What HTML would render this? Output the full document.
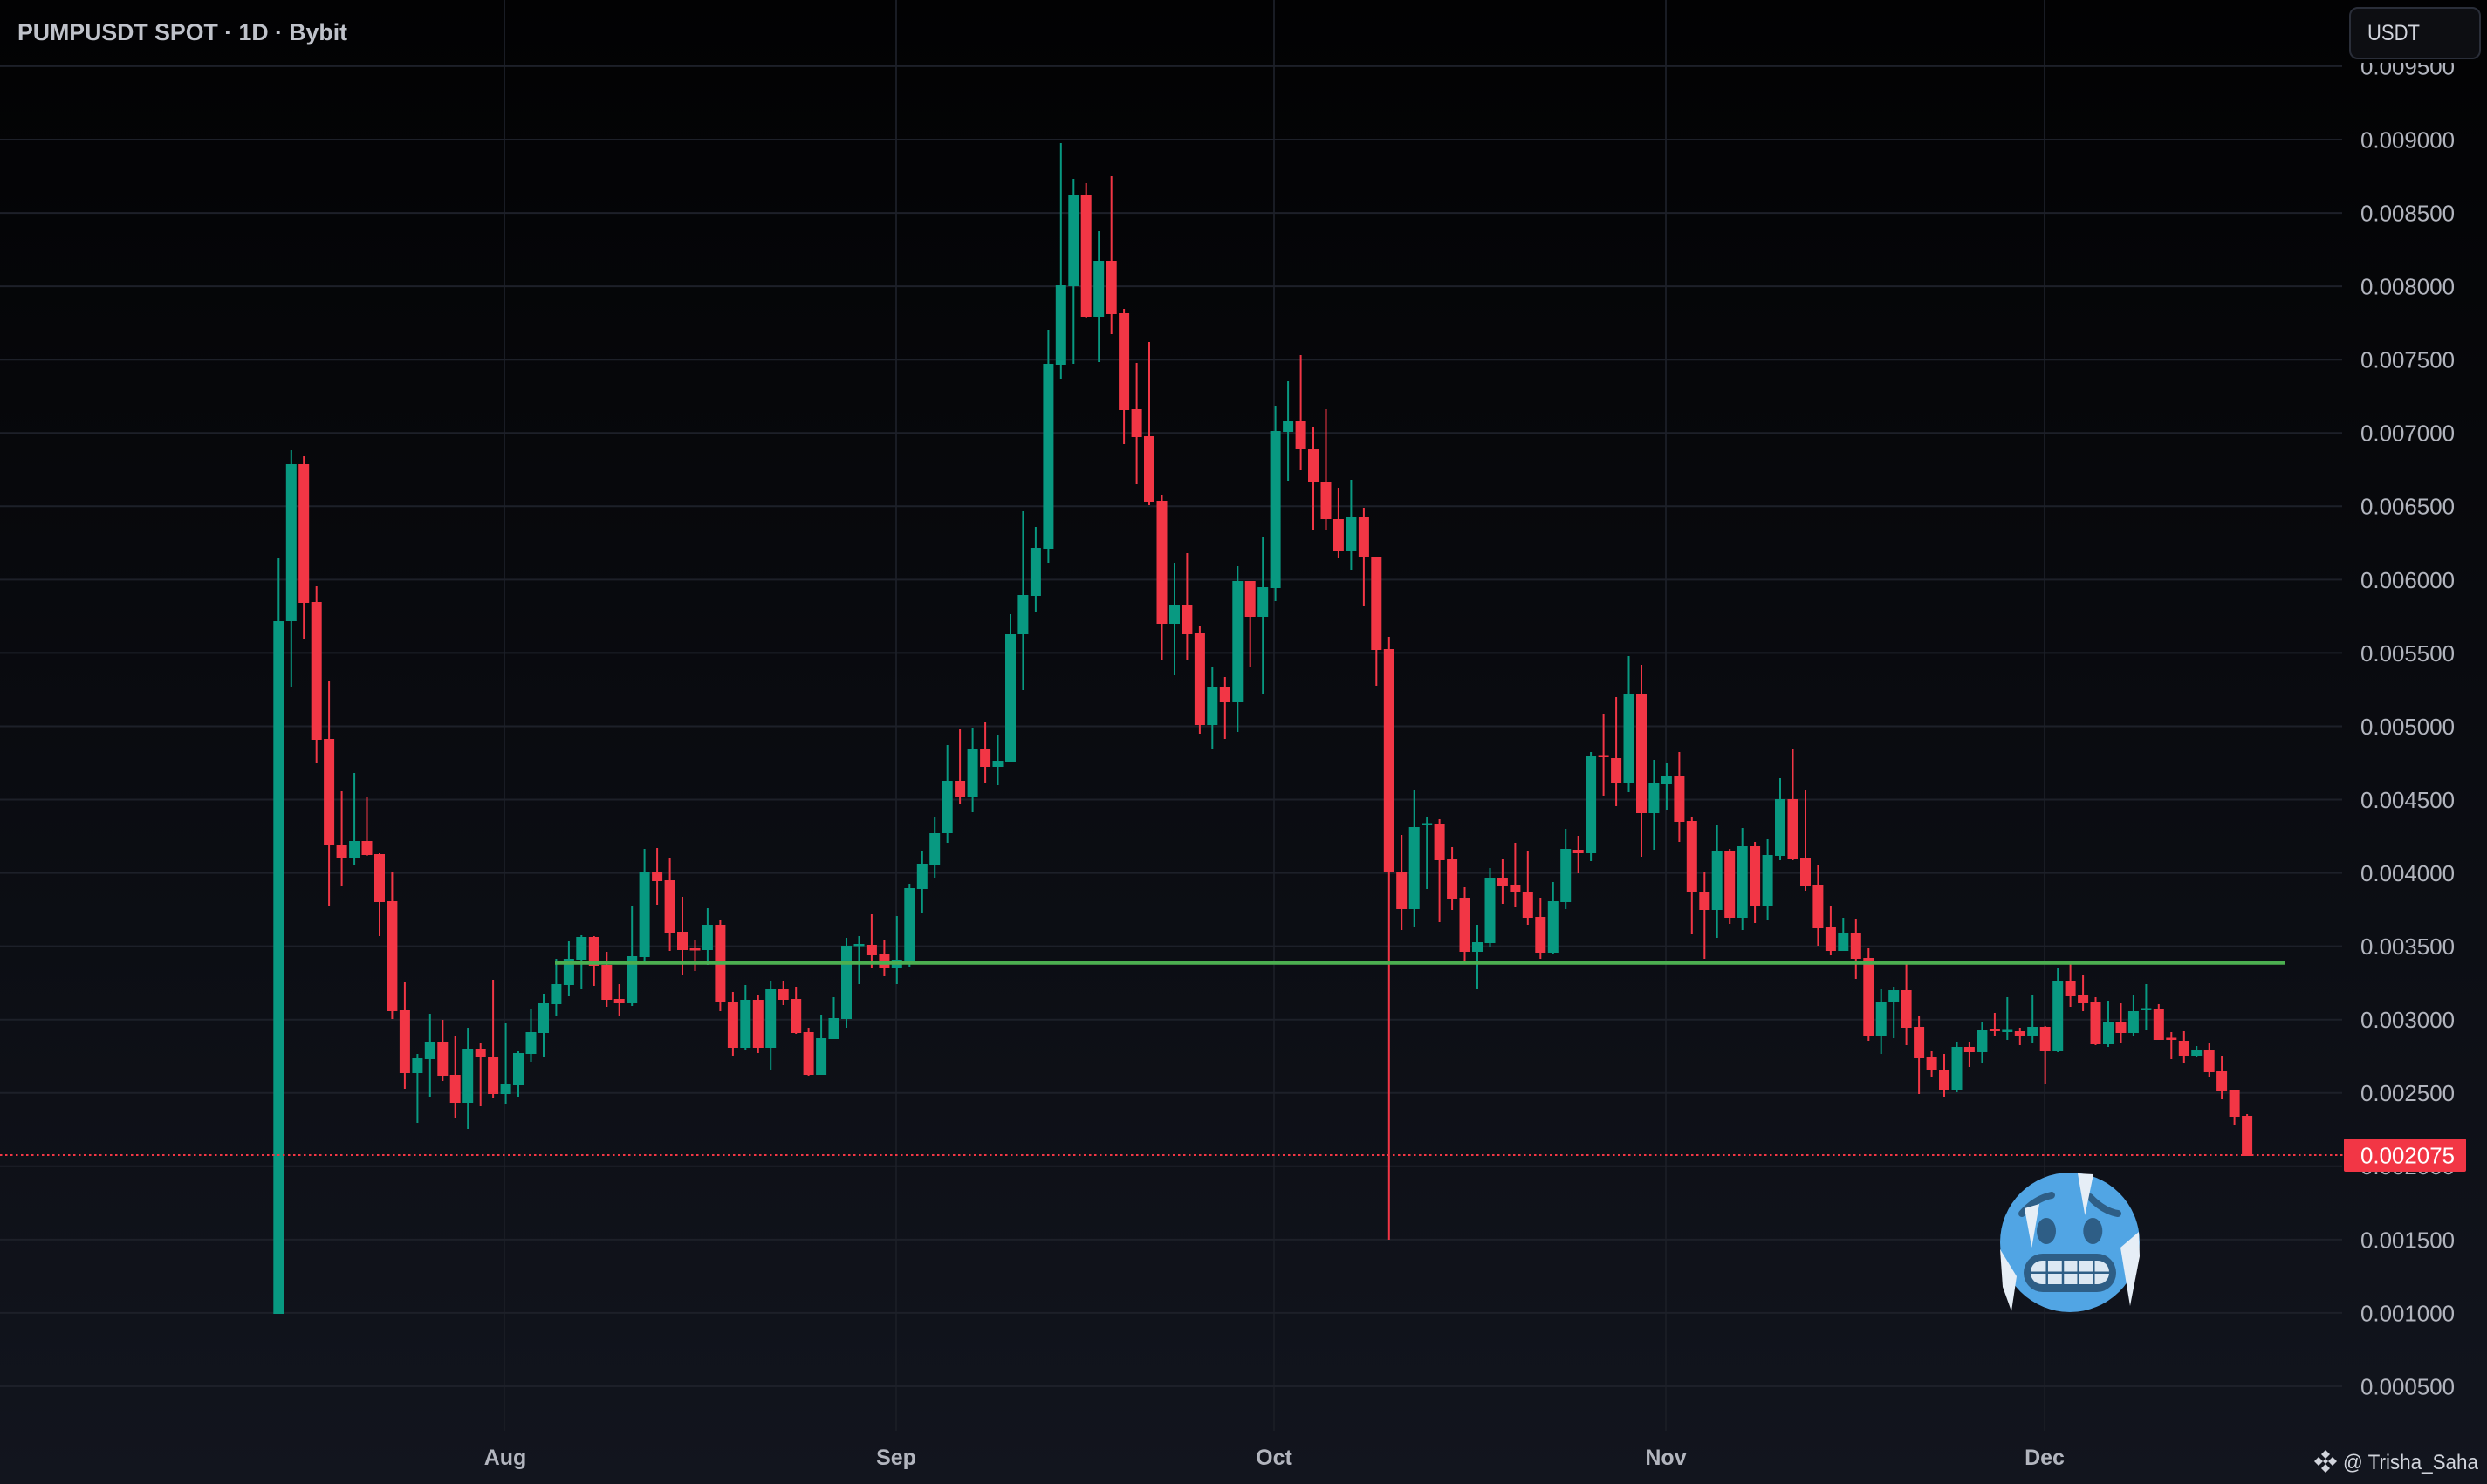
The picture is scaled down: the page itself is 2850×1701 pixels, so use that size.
<!DOCTYPE html>
<html><head><meta charset="utf-8"><style>
html,body{margin:0;padding:0;width:2850px;height:1701px;overflow:hidden;background:#0a0b0f;}
svg{display:block}
text{font-family:"Liberation Sans",sans-serif;}
</style></head><body>
<svg width="2850" height="1701" viewBox="0 0 2850 1701" xmlns="http://www.w3.org/2000/svg">
<defs><linearGradient id="bg" x1="0" y1="0" x2="0" y2="1"><stop offset="0" stop-color="#020203"/><stop offset="1" stop-color="#12151e"/></linearGradient>
<clipPath id="topclip"><rect x="2690" y="72" width="160" height="40"/></clipPath></defs>
<rect width="2850" height="1701" fill="url(#bg)"/>
<!-- vertical grid -->
<path d="M578 0V1640M1027 0V1640M1460 0V1640M1909 0V1640M2343 0V1640" stroke="#191c24" stroke-width="2" fill="none"/>
<!-- horizontal grid -->
<path d="M0 75.9H2684M0 160H2684M0 244.1H2684M0 328.1H2684M0 412.2H2684M0 496.2H2684M0 580.3H2684M0 664.4H2684M0 748.4H2684M0 832.5H2684M0 916.5H2684M0 1000.6H2684M0 1084.6H2684M0 1168.7H2684M0 1252.8H2684M0 1336.8H2684M0 1420.9H2684M0 1504.9H2684M0 1589H2684" stroke="#1d2029" stroke-width="2" fill="none"/>

<!-- green wicks -->
<path fill="none" stroke="#089981" stroke-width="2" d="M319.3 640V1506M333.8 516V788M406.1 886V991M478.4 1208V1287M492.8 1162V1257M536.2 1178V1294M579.6 1173V1266M594 1205V1257M608.5 1157V1217M623 1139V1211M637.4 1099V1164M651.9 1079V1142M666.3 1072V1134M724.2 1038V1153M738.6 973V1101M810.9 1041V1106M854.3 1129V1204M883.2 1125V1227M941.1 1163V1232M955.5 1143V1191M970 1075V1178M984.5 1073V1128M1027.8 1050V1128M1042.3 1013V1108M1056.8 976V1047M1071.2 936V1006M1085.7 854V966M1114.6 834V931M1143.5 843V900M1158 704V873M1172.4 586V791M1186.9 604V702M1201.4 378V645M1215.8 164V434M1230.3 205V417M1259.2 265V415M1346 645V774M1389.3 765V859M1418.3 649V839M1447.2 615V796M1461.6 465V689M1476.1 437V551M1548.4 550V653M1620.7 906V1063M1635.2 936V1019M1693 1060V1134M1707.5 995V1086M1779.8 1011V1094M1794.2 950V1042M1823.1 862V987M1866.5 752V908M1895.4 871V974M1909.9 874V928M1967.7 946V1075M1996.7 949V1066M2025.6 962V1054M2040 892V986M2112.3 1052V1090M2155.7 1134V1208M2170.2 1131V1190M2242.5 1194V1252M2271.4 1172V1218M2300.3 1143V1192M2329.2 1141V1196M2358.2 1109V1206M2416 1147V1200M2444.9 1141V1187M2459.4 1128V1181M2517.2 1199V1212"/>
<!-- green bodies -->
<path fill="none" stroke="#089981" stroke-width="12" d="M319.3 712V1506M333.8 532V712M406.1 964V983M478.4 1213V1230M492.8 1194V1214M536.2 1202V1264M579.6 1243V1254M594 1207V1244M608.5 1183V1208M623 1150V1184M637.4 1128V1151M651.9 1099V1129M666.3 1074V1100M724.2 1096V1150M738.6 999V1097M810.9 1060V1089M854.3 1146V1201M883.2 1134V1201M941.1 1190V1232M955.5 1167V1191M970 1084V1168M984.5 1082V1084.5M1027.8 1100V1109M1042.3 1018V1101M1056.8 990V1019M1071.2 955V991M1085.7 895V955M1114.6 858V914M1143.5 872V879M1158 727V873M1172.4 682V727M1186.9 628V683M1201.4 417V629M1215.8 327V418M1230.3 224V328M1259.2 299V363M1346 693V715M1389.3 788V831M1418.3 666V805M1447.2 673V707M1461.6 494V674M1476.1 482V495M1548.4 593V632M1620.7 948V1042M1635.2 943.5V946M1693 1080V1091M1707.5 1006V1081M1779.8 1033V1092M1794.2 973V1034M1823.1 867V978M1866.5 795V897M1895.4 898V932M1909.9 890V899M1967.7 975V1043M1996.7 970V1052M2025.6 980V1039M2040 916V981M2112.3 1070V1090M2155.7 1148V1188M2170.2 1135V1149M2242.5 1200V1249M2271.4 1181V1206M2300.3 1180.5V1183M2329.2 1177V1188M2358.2 1125V1205M2416 1171V1197M2444.9 1159V1184M2459.4 1155.5V1158M2517.2 1203V1210"/>
<!-- red wicks -->
<path fill="none" stroke="#f23645" stroke-width="2" d="M348.2 523V733M362.7 672V875M377.1 781V1039M391.6 907V1016M420.5 914V981M435 978V1073M449.4 999V1168M463.9 1126V1248M507.3 1169V1239M521.7 1187V1281M550.7 1195V1268M565.1 1123V1258M680.8 1073V1130M695.3 1091V1154M709.7 1128V1165M753.1 972V1037M767.6 984V1090M782 1028V1117M796.5 1078V1113M825.4 1054V1159M839.9 1137V1210M868.8 1140V1207M897.7 1124V1152M912.2 1131V1185M926.6 1178V1233M998.9 1048V1109M1013.4 1078V1119M1100.1 836V921M1129.1 828V897M1244.7 210V364M1273.7 202V383M1288.1 354V509M1302.6 416V555M1317 392V579M1331.5 567V757M1360.4 634V757M1374.9 718V841M1403.8 776V847M1432.7 666V765M1490.6 407V539M1505 490V608M1519.5 469V607M1533.9 559V640M1562.9 582V695M1577.3 638V786M1591.8 730V1421M1606.2 957V1066M1649.6 939V1057M1664.1 971V1043M1678.5 1017V1104M1721.9 985V1036M1736.4 966V1040M1750.8 975V1060M1765.3 1029V1099M1808.7 958V1001M1837.6 818V912M1852.1 799V924M1881 762V982M1924.4 862V965M1938.8 937V1071M1953.3 1000V1099M1982.2 973V1059M2011.1 965V1058M2054.5 859V986M2069 906V1021M2083.4 992V1084M2097.9 1039V1095M2126.8 1053V1122M2141.3 1087V1193M2184.6 1102V1198M2199.1 1165V1254M2213.6 1205V1235M2228 1208V1257M2256.9 1194V1223M2285.9 1161V1188M2314.8 1178V1198M2343.7 1176V1242M2372.6 1102V1154M2387.1 1117V1159M2401.5 1143V1198M2430.5 1150V1196M2473.8 1151V1192M2488.3 1183V1214M2502.8 1182V1218M2531.7 1195V1235M2546.1 1210V1260M2560.6 1249V1290M2575.1 1277V1325"/>
<!-- red bodies -->
<path fill="none" stroke="#f23645" stroke-width="12" d="M348.2 532V691M362.7 690V848M377.1 847V969M391.6 968V983M420.5 964V980M435 979V1034M449.4 1033V1159M463.9 1158V1230M507.3 1194V1233M521.7 1232V1264M550.7 1202V1212M565.1 1211V1254M680.8 1074V1107M695.3 1106V1146M709.7 1145V1150M753.1 999V1010M767.6 1009V1069M782 1068V1089M796.5 1087V1089.5M825.4 1060V1149M839.9 1148V1201M868.8 1146V1201M897.7 1134V1146M912.2 1145V1184M926.6 1183V1232M998.9 1083V1095M1013.4 1094V1109M1100.1 895V914M1129.1 858V879M1244.7 224V363M1273.7 299V360M1288.1 359V470M1302.6 469V501M1317 500V575M1331.5 574V715M1360.4 693V727M1374.9 726V831M1403.8 788V805M1432.7 666V707M1490.6 483V515M1505 515V552M1519.5 552V595M1533.9 595V632M1562.9 593V638M1577.3 638V745M1591.8 744V999M1606.2 999V1042M1649.6 944V986M1664.1 985V1030M1678.5 1029V1091M1721.9 1006V1015M1736.4 1014V1023M1750.8 1022V1052M1765.3 1051V1092M1808.7 974V978M1837.6 865.5V868M1852.1 869V897M1881 795V932M1924.4 890V942M1938.8 941V1023M1953.3 1022V1043M1982.2 975V1052M2011.1 970V1039M2054.5 916V985M2069 984V1015M2083.4 1014V1064M2097.9 1063V1090M2126.8 1070V1099M2141.3 1098V1188M2184.6 1135V1178M2199.1 1177V1213M2213.6 1212V1227M2228 1226V1249M2256.9 1200V1206M2285.9 1179.5V1182M2314.8 1182V1188M2343.7 1177V1205M2372.6 1125V1142M2387.1 1141V1150M2401.5 1149V1197M2430.5 1171V1184M2473.8 1157V1192M2488.3 1189.5V1192M2502.8 1193V1210M2531.7 1203V1229M2546.1 1228V1250M2560.6 1249V1280M2575.1 1279V1325"/>

<!-- support line -->
<path d="M636 1103.7H2619" stroke="#4caf50" stroke-width="4" fill="none"/>
<!-- current price dotted line -->
<path d="M0 1324H2686" stroke="#f23645" stroke-width="2" stroke-dasharray="2.5 3.5" fill="none"/>

<!-- title -->
<text x="20" y="46" font-size="27" font-weight="bold" fill="#bfc2ca" textLength="378" lengthAdjust="spacingAndGlyphs">PUMPUSDT SPOT · 1D · Bybit</text>

<!-- price axis labels -->
<g font-size="26" fill="#b2b5be">
<text x="2705" y="85.3" textLength="108" lengthAdjust="spacingAndGlyphs" clip-path="url(#topclip)">0.009500</text>
<text x="2705" y="169.4" textLength="108" lengthAdjust="spacingAndGlyphs">0.009000</text>
<text x="2705" y="253.5" textLength="108" lengthAdjust="spacingAndGlyphs">0.008500</text>
<text x="2705" y="337.5" textLength="108" lengthAdjust="spacingAndGlyphs">0.008000</text>
<text x="2705" y="421.6" textLength="108" lengthAdjust="spacingAndGlyphs">0.007500</text>
<text x="2705" y="505.6" textLength="108" lengthAdjust="spacingAndGlyphs">0.007000</text>
<text x="2705" y="589.7" textLength="108" lengthAdjust="spacingAndGlyphs">0.006500</text>
<text x="2705" y="673.8" textLength="108" lengthAdjust="spacingAndGlyphs">0.006000</text>
<text x="2705" y="757.8" textLength="108" lengthAdjust="spacingAndGlyphs">0.005500</text>
<text x="2705" y="841.9" textLength="108" lengthAdjust="spacingAndGlyphs">0.005000</text>
<text x="2705" y="925.9" textLength="108" lengthAdjust="spacingAndGlyphs">0.004500</text>
<text x="2705" y="1010" textLength="108" lengthAdjust="spacingAndGlyphs">0.004000</text>
<text x="2705" y="1094" textLength="108" lengthAdjust="spacingAndGlyphs">0.003500</text>
<text x="2705" y="1178.1" textLength="108" lengthAdjust="spacingAndGlyphs">0.003000</text>
<text x="2705" y="1262.2" textLength="108" lengthAdjust="spacingAndGlyphs">0.002500</text>
<text x="2705" y="1346.2" textLength="108" lengthAdjust="spacingAndGlyphs">0.002000</text>
<text x="2705" y="1430.3" textLength="108" lengthAdjust="spacingAndGlyphs">0.001500</text>
<text x="2705" y="1514.3" textLength="108" lengthAdjust="spacingAndGlyphs">0.001000</text>
<text x="2705" y="1598.4" textLength="108" lengthAdjust="spacingAndGlyphs">0.000500</text>
</g>

<!-- USDT box -->
<rect x="2693" y="9" width="149" height="58" rx="9" fill="#0d0e12" stroke="#2a2e39" stroke-width="2"/>
<text x="2713" y="46" font-size="25" fill="#d1d4dc" textLength="60" lengthAdjust="spacingAndGlyphs">USDT</text>

<!-- current price tag -->
<rect x="2686" y="1305" width="140" height="38" rx="2" fill="#f23645"/>
<text x="2705" y="1333.4" font-size="26" fill="#ffffff" textLength="108" lengthAdjust="spacingAndGlyphs">0.002075</text>

<!-- month labels -->
<g font-size="25" font-weight="bold" fill="#b2b5be" text-anchor="middle">
<text x="579" y="1679">Aug</text>
<text x="1027" y="1679">Sep</text>
<text x="1460" y="1679">Oct</text>
<text x="1909" y="1679">Nov</text>
<text x="2343" y="1679">Dec</text>
</g>

<!-- watermark -->
<g transform="translate(2665 1675)" fill="#d1d4dc">
<path d="M0 -13 L5 -8 L0 -3 L-5 -8Z M0 13 L5 8 L0 3 L-5 8Z M-13 0 L-8 -5 L-3 0 L-8 5Z M13 0 L8 -5 L3 0 L8 5Z M0 -3 L3 0 L0 3 L-3 0Z"/>
</g>
<text x="2685" y="1684" font-size="24" fill="#d1d4dc" textLength="155" lengthAdjust="spacingAndGlyphs">@ Trisha_Saha</text>

<!-- cold face emoji -->
<g>
<circle cx="2372" cy="1424" r="80" fill="#51a5e4"/>
<ellipse cx="2345" cy="1411" rx="11" ry="15" fill="#2e5e86"/>
<ellipse cx="2398.3" cy="1411" rx="11" ry="15" fill="#2e5e86"/>
<path d="M2317 1391 Q2332 1374 2351 1370" stroke="#2e5e86" stroke-width="8" stroke-linecap="round" fill="none"/>
<path d="M2395 1372 Q2410 1388 2427 1391" stroke="#2e5e86" stroke-width="8" stroke-linecap="round" fill="none"/>
<rect x="2319" y="1437" width="106" height="44" rx="22" fill="#2e5e86"/>
<rect x="2327" y="1445" width="90" height="27" rx="13" fill="#dce8f3"/>
<path d="M2345.7 1445V1472M2364 1445V1472M2381.7 1445V1472M2399.3 1445V1472M2327 1458.7H2417" stroke="#2e5e86" stroke-width="2.5" fill="none"/>
<g fill="#e6eef6">
<polygon points="2381,1345 2399,1346 2389.3,1393"/>
<polygon points="2320,1385 2337,1380 2328.3,1430"/>
<polygon points="2292,1432 2311,1463 2305,1503 2295,1475"/>
<polygon points="2451,1412 2452,1440 2441,1497 2430,1430"/>
</g>
</g>
</svg>
</body></html>
